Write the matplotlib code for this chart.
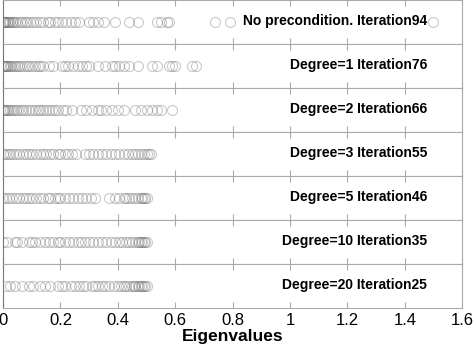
import numpy as np
import matplotlib.pyplot as plt

plt.rcParams['font.family'] = ['Liberation Sans', 'DejaVu Sans']

labels = ['No precondition. Iteration94', 'Degree=1 Iteration76', 'Degree=2 Iteration66',
          'Degree=3 Iteration55', 'Degree=5 Iteration46', 'Degree=10 Iteration35',
          'Degree=20 Iteration25']

# eigenvalues, one list per panel
eig_none = [0.0, 0.002, 0.005, 0.008, 0.012, 0.016, 0.02, 0.025, 0.03, 0.036, 0.042, 0.05, 0.058,
            0.066, 0.075, 0.085, 0.095, 0.105, 0.115, 0.13, 0.14, 0.155, 0.165, 0.18, 0.19, 0.205,
            0.22, 0.235, 0.25, 0.265, 0.3, 0.315, 0.33, 0.35, 0.39, 0.44, 0.47, 0.535, 0.552,
            0.57, 0.58, 0.74, 0.79, 1.5]
eig_d1 = [0.0, 0.003, 0.006, 0.01, 0.014, 0.018, 0.023, 0.028, 0.034, 0.04, 0.047, 0.055, 0.063,
          0.072, 0.082, 0.092, 0.1, 0.11, 0.12, 0.13, 0.14, 0.16, 0.175, 0.205, 0.215, 0.225,
          0.245, 0.26, 0.275, 0.29, 0.3, 0.33, 0.355, 0.38, 0.39, 0.405, 0.42, 0.44, 0.47,
          0.52, 0.535, 0.58, 0.59, 0.6, 0.66, 0.672]
eig_d2 = [0.0, 0.004, 0.008, 0.013, 0.018, 0.024, 0.03, 0.037, 0.045, 0.053, 0.062, 0.07, 0.08,
          0.09, 0.1, 0.11, 0.12, 0.13, 0.14, 0.15, 0.16, 0.17, 0.18, 0.19, 0.21, 0.22, 0.24,
          0.27, 0.29, 0.31, 0.33, 0.34, 0.36, 0.38, 0.4, 0.42, 0.46, 0.48, 0.5, 0.52, 0.535,
          0.55, 0.59]
eig_d3 = [0.0, 0.008, 0.016, 0.025, 0.035, 0.045, 0.055, 0.07, 0.08, 0.09, 0.1, 0.115, 0.13,
          0.14, 0.15, 0.165, 0.175, 0.19, 0.2, 0.215, 0.225, 0.24, 0.255, 0.285, 0.3, 0.315,
          0.33, 0.345, 0.36, 0.375, 0.39, 0.405, 0.42, 0.435, 0.45, 0.46, 0.47, 0.48, 0.49,
          0.5, 0.51, 0.515]
eig_d5 = [0.0, 0.01, 0.02, 0.03, 0.045, 0.055, 0.07, 0.08, 0.09, 0.1, 0.115, 0.13, 0.14, 0.155,
          0.165, 0.18, 0.19, 0.2, 0.215, 0.23, 0.245, 0.26, 0.275, 0.29, 0.305, 0.32, 0.37,
          0.39, 0.405, 0.42, 0.43, 0.44, 0.45, 0.46, 0.47, 0.48, 0.485, 0.49, 0.495, 0.5]
eig_d10 = [0.0, 0.012, 0.04, 0.05, 0.065, 0.09, 0.1, 0.11, 0.13, 0.145, 0.16, 0.175, 0.19, 0.2,
           0.215, 0.23, 0.245, 0.26, 0.27, 0.285, 0.3, 0.315, 0.33, 0.345, 0.36, 0.375, 0.39,
           0.405, 0.415, 0.43, 0.44, 0.45, 0.46, 0.47, 0.475, 0.48, 0.485, 0.49, 0.495, 0.5]
eig_d20 = [0.01, 0.025, 0.04, 0.065, 0.09, 0.105, 0.13, 0.145, 0.165, 0.19, 0.205, 0.215, 0.235,
           0.25, 0.265, 0.28, 0.29, 0.31, 0.32, 0.33, 0.345, 0.355, 0.37, 0.385, 0.4, 0.41,
           0.42, 0.43, 0.44, 0.45, 0.455, 0.46, 0.47, 0.475, 0.48, 0.485, 0.49, 0.495, 0.5]

rows = [eig_none, eig_d1, eig_d2, eig_d3, eig_d5, eig_d10, eig_d20]

fig, axes = plt.subplots(len(rows), 1, figsize=(4.74, 3.51), dpi=100, sharex=True)
fig.subplots_adjust(left=0.0065, right=0.975, top=1.0, bottom=0.1225, hspace=0)

for ax, vals, lab in zip(axes, rows, labels):
    ax.plot(vals, np.zeros(len(vals)), 'o', markersize=7.2, markerfacecolor='none',
            markeredgecolor='#666666', markeredgewidth=0.8, alpha=0.35)
    ax.text(1.478, 0.05, lab, ha='right', va='center', fontweight='bold', fontsize=10)
    ax.set_ylim(-1, 1)
    ax.set_xlim(0, 1.6)
    ax.set_yticks([])
    ax.set_xticks(np.arange(0, 1.61, 0.2))
    ax.tick_params(axis='x', direction='in', top=True, bottom=True, length=4,
                   color='#aaaaaa', labelsize=12)
    for s in ['top', 'bottom', 'right']:
        ax.spines[s].set_color('#aaaaaa')
    ax.spines['left'].set_color('#777777')

axes[-1].set_xticklabels(['0', '0.2', '0.4', '0.6', '0.8', '1', '1.2', '1.4', '1.6'])
axes[-1].set_xlabel('Eigenvalues', fontweight='bold', fontsize=12.5, labelpad=1)

fig.savefig('out.png')
